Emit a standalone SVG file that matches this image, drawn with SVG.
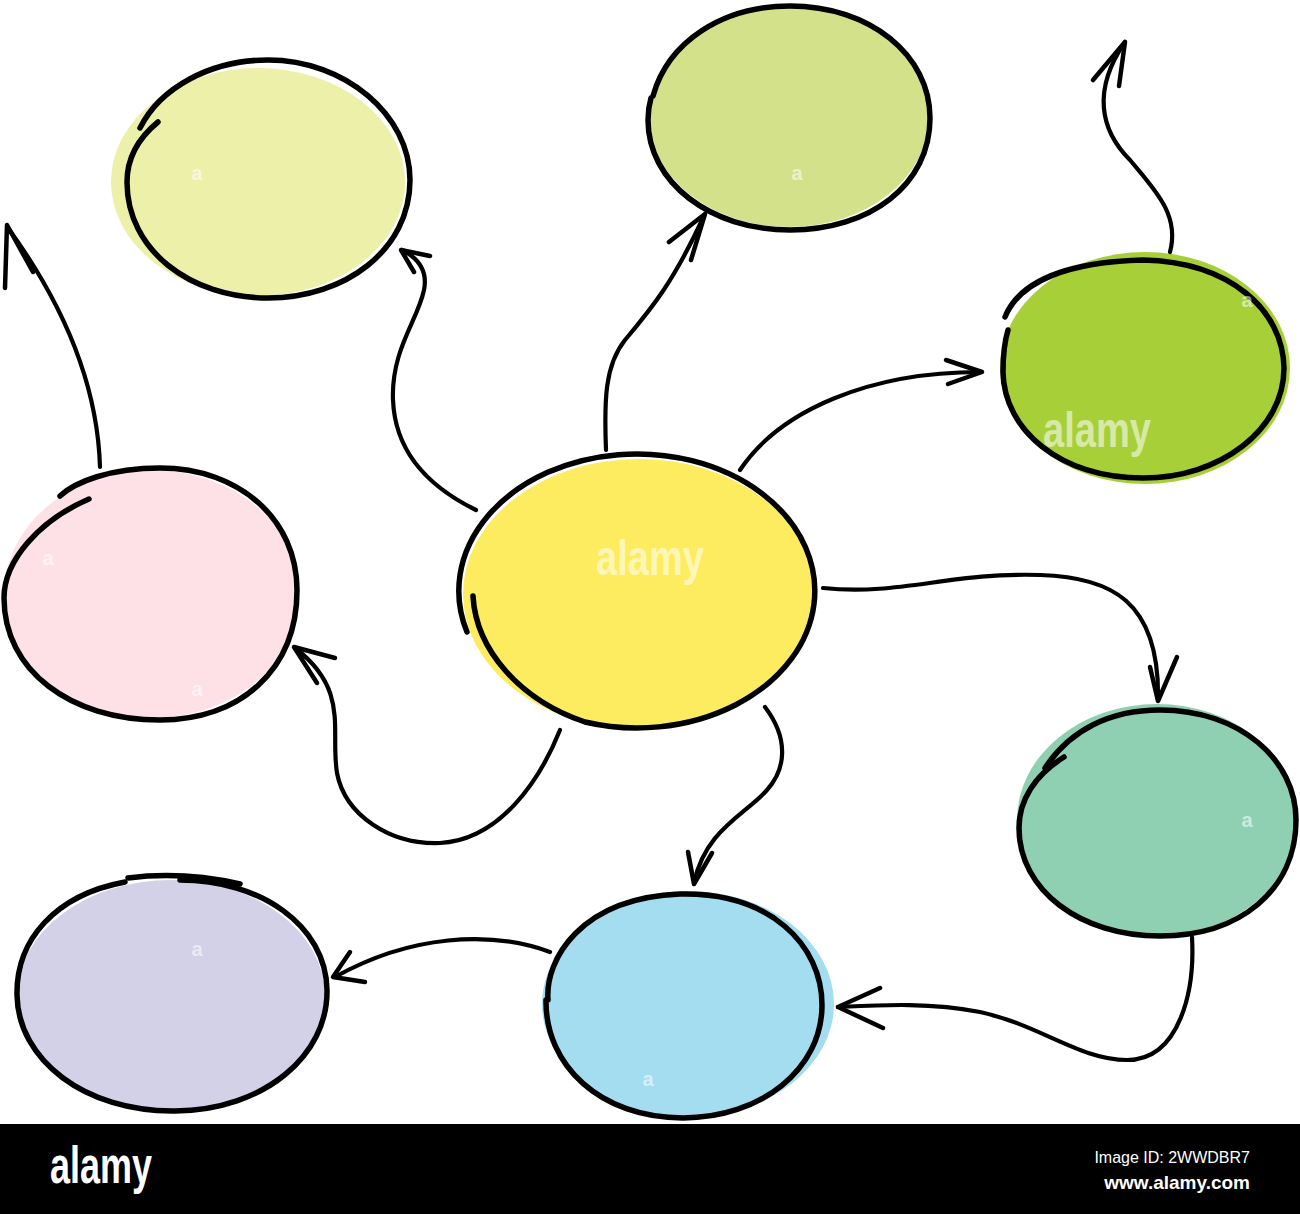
<svg xmlns="http://www.w3.org/2000/svg" width="1300" height="1214" viewBox="0 0 1300 1214">
<style>
.ol{fill:none;stroke:#000;stroke-width:5.5;stroke-linecap:round;stroke-linejoin:round}
.ar{fill:none;stroke:#000;stroke-width:4.2;stroke-linecap:round;stroke-linejoin:round}
.hd{fill:none;stroke:#000;stroke-width:4.5;stroke-linecap:round;stroke-linejoin:round}
.wm{font-family:"Liberation Sans Narrow","Liberation Sans",sans-serif;font-weight:bold;fill:#fff;opacity:0.55}
.bar{font-family:"Liberation Sans Narrow","Liberation Sans",sans-serif;fill:#fff}
</style>
<rect width="1300" height="1214" fill="#fff"/>

<g id="node-top-left">
  <ellipse cx="258" cy="182" rx="147" ry="114" fill="#ECF0A9"/>
  <path class="ol" d="M158,122 C136,140 127,160 127,182 C127,250 190,298 268,298 C345,298 410,250 410,180 C410,115 345,60 268,60 C210,60 160,88 140,128"/>
</g>

<g id="node-top-center">
  <ellipse cx="789" cy="117" rx="140" ry="110" fill="#D3E28A"/>
  <path class="ol" d="M653,96 C668,42 722,6 790,6 C870,6 930,55 930,118 C930,185 870,230 790,230 C710,230 648,182 648,120 C648,112 649,105 651,98"/>
</g>

<g id="node-right">
  <ellipse cx="1145" cy="368" rx="145" ry="116" fill="#A7CF38"/>
  <path class="ol" d="M1005,317 C1020,280 1070,262 1143,260 C1230,262 1283,310 1284,368 C1284,430 1220,478 1143,478 C1060,478 1004,430 1003,372 C1003,355 1005,340 1008,330"/>
</g>

<g id="node-center">
  <ellipse cx="639" cy="594" rx="176" ry="135" fill="#FDEC5F"/>
  <path class="ol" d="M473,596 C476,650 520,700 585,722 A178 137 0 1 0 467,632"/>
</g>

<g id="node-pink">
  <ellipse cx="152" cy="594" rx="148" ry="124" fill="#FDE1E6"/>
  <path class="ol" d="M89,499 C40,520 4,560 4,598 C4,670 70,720 160,720 C240,720 297,670 297,590 C297,520 240,468 160,468 C110,468 75,482 60,496"/>
</g>

<g id="node-teal">
  <ellipse cx="1157" cy="820" rx="140" ry="116" fill="#8FD0B3"/>
  <path class="ol" d="M1064,757 C1035,775 1019,800 1019,828 C1019,890 1080,936 1160,936 C1240,936 1296,890 1296,820 C1296,760 1240,710 1160,710 C1110,710 1070,730 1045,768"/>
</g>

<g id="node-blue">
  <ellipse cx="688" cy="1004" rx="146" ry="113" fill="#A4DDEF"/>
  <path class="ol" d="M548,1000 C545,960 580,898 680,894 C770,892 822,945 822,1005 C822,1070 760,1118 683,1118 C600,1118 545,1065 546,1000"/>
</g>

<g id="node-lavender">
  <ellipse cx="171" cy="996" rx="154" ry="116" fill="#D3D1E7"/>
  <path class="ol" d="M125,882 C55,895 16,940 17,995 C18,1060 85,1112 175,1111 C265,1110 328,1055 327,990 C326,925 260,880 180,880"/>
  <path class="ol" d="M128,878 C160,874 200,875 240,884"/>
</g>

<g id="watermarks">
  <text class="wm" x="650" y="575" font-size="50" text-anchor="middle" textLength="108" lengthAdjust="spacingAndGlyphs">alamy</text>
  <text class="wm" x="1097" y="447" font-size="50" text-anchor="middle" textLength="108" lengthAdjust="spacingAndGlyphs">alamy</text>
  <text class="wm" x="197" y="180" font-size="20" text-anchor="middle">a</text>
  <text class="wm" x="797" y="180" font-size="20" text-anchor="middle">a</text>
  <text class="wm" x="1247" y="307" font-size="20" text-anchor="middle">a</text>
  <text class="wm" x="48" y="565" font-size="20" text-anchor="middle">a</text>
  <text class="wm" x="197" y="696" font-size="20" text-anchor="middle">a</text>
  <text class="wm" x="1247" y="827" font-size="20" text-anchor="middle">a</text>
  <text class="wm" x="197" y="956" font-size="20" text-anchor="middle">a</text>
  <text class="wm" x="648" y="1086" font-size="20" text-anchor="middle">a</text>
</g>

<g id="connectors">
  <path class="ar" d="M476,510 C425,485 395,450 393,400 C391,350 418,320 424,290 C428,270 418,258 402,250"/>
  <path class="hd" d="M430,256 L401,250 L414,272"/>
  <path class="ar" d="M606,450 C604,400 605,365 625,340 C650,310 672,285 704,216"/>
  <path class="hd" d="M669,242 L705,214 L691,260"/>
  <path class="ar" d="M740,470 C780,410 870,372 980,372"/>
  <path class="hd" d="M946,360 L982,372 L948,384"/>
  <path class="ar" d="M1170,252 C1180,215 1155,190 1130,160 C1100,130 1092,90 1125,42"/>
  <path class="hd" d="M1093,80 L1125,42 L1119,86"/>
  <path class="ar" d="M823,588 C900,596 950,572 1040,575 C1110,577 1160,600 1158,700"/>
  <path class="hd" d="M1150,667 L1158,701 L1177,657"/>
  <path class="ar" d="M1192,937 C1195,990 1180,1060 1127,1060 C1080,1060 1040,1025 980,1012 C930,1002 880,1005 838,1007"/>
  <path class="hd" d="M880,988 L838,1007 L883,1028"/>
  <path class="ar" d="M550,952 C490,930 410,935 335,977"/>
  <path class="hd" d="M350,952 L333,977 L365,982"/>
  <path class="ar" d="M765,707 C790,740 785,770 767,790 C745,815 705,830 694,883"/>
  <path class="hd" d="M688,852 L694,884 L712,853"/>
  <path class="ar" d="M560,730 C540,780 500,840 440,843 C390,845 345,815 337,773 C330,730 350,690 295,648"/>
  <path class="hd" d="M335,658 L294,647 L317,683"/>
  <path class="ar" d="M100,467 C98,400 75,320 8,228"/>
  <path class="hd" d="M5,288 L7,225 L33,272"/>
</g>

<g id="footer">
  <rect x="0" y="1124" width="1300" height="90" fill="#000"/>
  <text class="bar" x="50" y="1183" font-size="52" font-weight="bold" textLength="102" lengthAdjust="spacingAndGlyphs">alamy</text>
  <text class="bar" x="1250" y="1163" font-size="16" text-anchor="end">Image ID: 2WWDBR7</text>
  <text class="bar" x="1250" y="1189" font-size="19" font-weight="bold" text-anchor="end">www.alamy.com</text>
</g>
</svg>
